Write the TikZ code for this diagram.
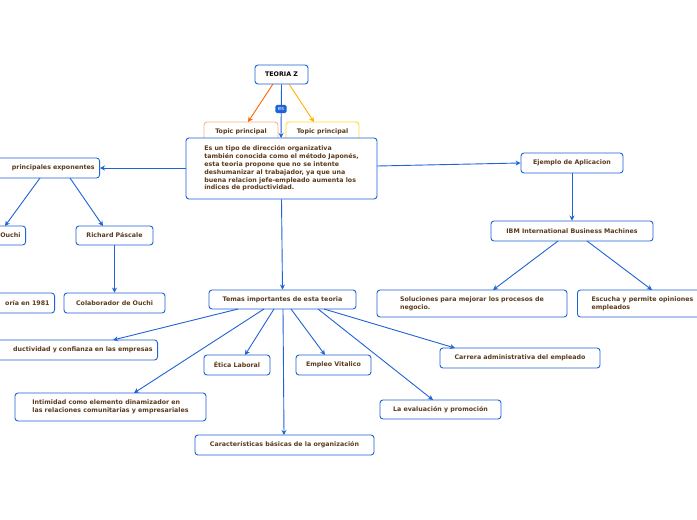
\documentclass[tikz,border=0pt]{standalone}
\usepackage{fontspec}
\setmainfont{DejaVu Sans}
\usetikzlibrary{arrows.meta}
\definecolor{bl}{HTML}{1F63D6}
\definecolor{tx}{HTML}{5A3B1C}
\begin{document}
\begin{tikzpicture}[x=1pt,y=-1pt,
 bx/.style={draw=bl,line width=0.9pt,rounded corners=3pt,fill=white,font=\fontsize{6.3}{7.8}\selectfont\bfseries,text=tx,inner sep=2pt},
 ar/.style={draw=bl,line width=0.9pt,-{Stealth[length=5pt,width=5pt]}}]
\clip (0,0) rectangle (697,520);
\fill[white] (0,0) rectangle (697,520);
% box: name, x1,y1,x2,y2, align, text
\def\bxat#1#2#3#4#5#6#7{\node[bx,minimum width=#4-#2,minimum height=#5-#3,align=#6] (#1) at ({(#2+#4)/2},{(#3+#5)/2}) {#7};}
\def\lbx#1#2#3#4#5{\node[bx,minimum width=300,minimum height=#4-#3,align=right,anchor=east,text width=290] (#1) at (#2,{(#3+#4)/2}) {#5};}
\bxat{tz}{255}{65}{308}{84}{center}{\color{black}TEORIA Z}
\node[bx,draw=red!40!orange!45,minimum width=74,minimum height=19] (t1) at (241,131.5) {Topic principal};
\node[bx,draw=orange!35!yellow!80,minimum width=73,minimum height=19] (t2) at (322.5,131.5) {Topic principal};
\bxat{m}{186}{138}{377}{199}{left}{Es un tipo de dirección organizativa\\también conocida como el método Japonés,\\esta teoria propone que no se intente\\deshumanizar al trabajador, ya que una\\buena relacion jefe-empleado aumenta los\\índices de productividad.}
\lbx{pe}{100}{158}{178}{principales exponentes\hspace{4pt}}
\lbx{ou}{26}{226}{245}{Ouchi}
\bxat{rp}{76}{226}{153}{245}{center}{Richard Páscale}
\lbx{o81}{55}{293}{313}{oría en 1981}
\bxat{co}{64}{293}{165}{313}{center}{Colaborador de Ouchi}
\bxat{te}{209}{290}{356}{309}{center}{Temas importantes de esta teoria}
\lbx{pr}{158}{340}{360}{ductividad y confianza en las empresas\hspace{4pt}}
\bxat{et}{204}{355}{270}{375}{center}{Ética Laboral}
\bxat{ev}{296}{355}{371}{375}{center}{Empleo Vitalico}
\bxat{ca}{440}{348}{600}{368}{center}{Carrera administrativa del empleado}
\bxat{in}{15}{393}{206}{421}{left}{Intimidad como elemento dinamizador en\\las relaciones comunitarias y empresariales}
\bxat{lev}{380}{400}{501}{419}{center}{La evaluación y promoción}
\bxat{cb}{195}{435}{374}{455}{center}{Características básicas de la organización}
\bxat{ej}{521}{153}{623}{173}{center}{Ejemplo de Aplicacion}
\bxat{ib}{491}{221}{653}{241}{center}{IBM International Business Machines}
\bxat{so}{377}{290}{567}{317}{left}{Soluciones para mejorar los procesos de\\negocio.}
\node[bx,minimum width=130,minimum height=27,align=left,anchor=west] (es) at (577,303.5) {Escucha y permite opiniones\\empleados\hspace{60pt}};
\draw[ar] (tz.south) -- (281,138);
\node[fill=bl,text=white,rounded corners=1.5pt,font=\fontsize{5.5}{6}\selectfont,inner sep=2.5pt] (esl) at (281,109) {es};
\draw[ar,draw=orange!80!red] (273,84) -- (248,122);
\draw[ar,draw=orange!60!yellow] (289,84) -- (314,122);
\draw[ar] (186,168) -- (pe.east);
\draw[ar] (377,166) -- (ej.west);
\draw[ar] (m.south) -- (te.north);
\draw[ar] (40,178) -- (5,226);
\draw[ar] (70,178) -- (103,226);
\draw[ar] (rp.south) -- (co.north);
\draw[ar] (ej.south) -- (ib.north);
\draw[ar] (558,241) -- (493,290);
\draw[ar] (587,241) -- (652,290);
\draw[ar] (238,309) -- (113,340);
\draw[ar] (264,309) -- (134,393);
\draw[ar] (274,309) -- (245,355);
\draw[ar] (283,309) -- (284,435);
\draw[ar] (291,309) -- (325,355);
\draw[ar] (318,309) -- (433,400);
\draw[ar] (324,309) -- (455,348);
\end{tikzpicture}
\end{document}
